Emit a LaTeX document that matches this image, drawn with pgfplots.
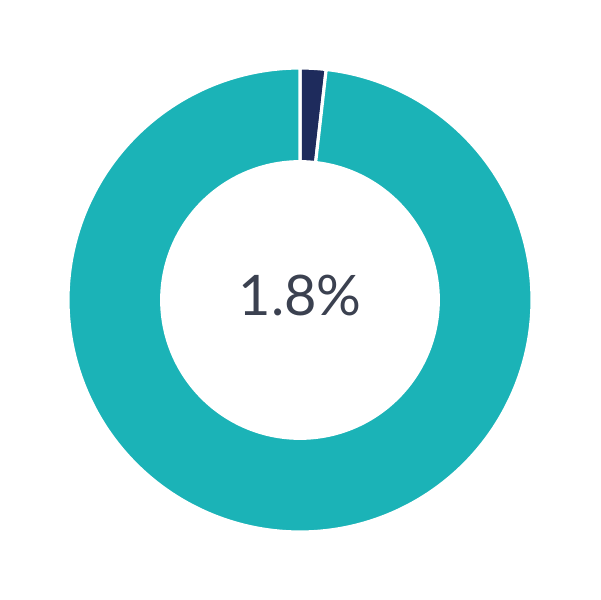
\documentclass[border=0pt]{standalone}
\usepackage{pgfplots}
\pgfplotsset{compat=1.18}
\usepackage{fontspec}
\setmainfont{Lato}
\definecolor{tealc}{HTML}{1BB3B7}
\definecolor{navyc}{HTML}{1E2B5C}
\definecolor{textc}{HTML}{3B4150}
% slice values (percent)
\def\valA{1.8}
\def\valB{98.2}
\begin{document}
\begin{tikzpicture}
\pgfmathsetmacro{\aStart}{90}
\pgfmathsetmacro{\aMid}{90-3.6*\valA}
\pgfmathsetmacro{\aEnd}{\aMid-3.6*\valB}
\begin{axis}[
  scale only axis, width=10cm, height=10cm,
  xmin=-1.293, xmax=1.293, ymin=-1.293, ymax=1.293,
  hide axis, clip=false]
\path (rel axis cs:0,0) rectangle (rel axis cs:1,1);
\addplot[fill=navyc, draw=white, line width=1.5pt, domain=\aMid:\aStart, samples=40]
  ({cos(x)},{sin(x)}) -- (axis cs:0,0) -- cycle;
\addplot[fill=tealc, draw=white, line width=1.5pt, domain=\aEnd:\aMid, samples=360]
  ({cos(x)},{sin(x)}) -- (axis cs:0,0) -- cycle;
\addplot[fill=white, draw=none, domain=0:360, samples=360]
  ({0.603*cos(x)},{0.603*sin(x)}) -- cycle;
\node[anchor=base, text=textc, font=\fontsize{26.5}{30}\selectfont, inner sep=0pt] at (axis cs:0,-0.065) {1.8\%};
\end{axis}
\end{tikzpicture}
\end{document}
